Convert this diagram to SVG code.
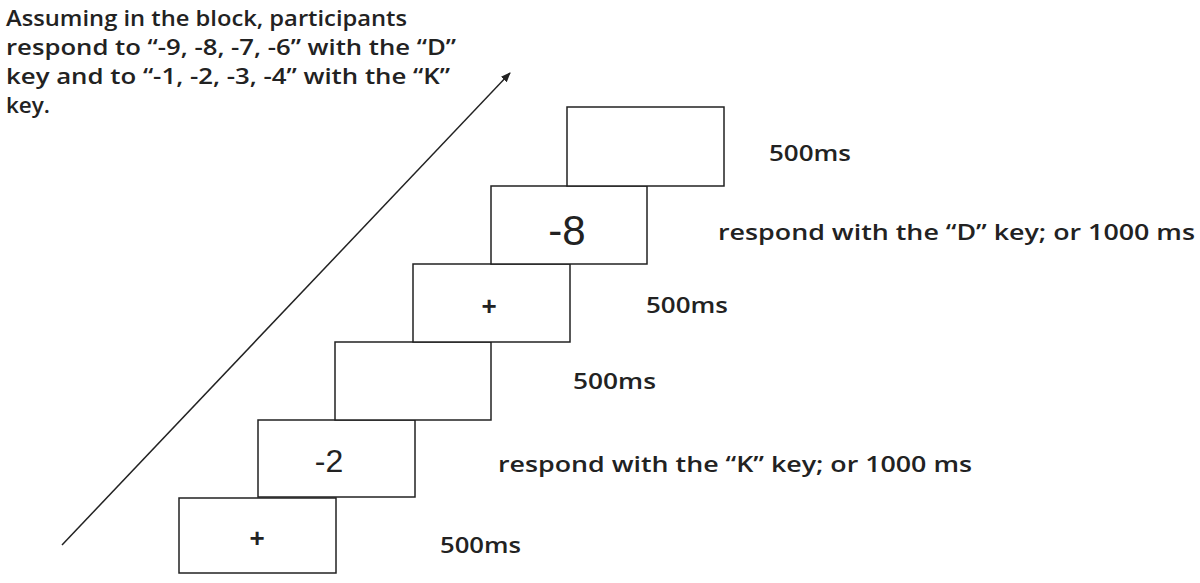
<svg xmlns="http://www.w3.org/2000/svg" width="1200" height="583" viewBox="0 0 1200 583">
<style>
.b{fill:#fff;stroke:#222;stroke-width:1.5}
.t{font-family:"Open Sans","Liberation Sans",Arial,sans-serif;font-size:22px;font-weight:600;fill:#222}
.s{font-family:"Liberation Sans",Arial,sans-serif;fill:#222}
</style>
<defs><marker id="a" markerWidth="10" markerHeight="10" refX="9" refY="5" orient="auto" markerUnits="userSpaceOnUse"><path d="M0,1 L10,5 L0,9 Z" fill="#222"/></marker></defs>
<rect width="1200" height="583" fill="#fff"/>
<g id="note"><text class="t" x="6" y="26" textLength="401" lengthAdjust="spacingAndGlyphs">Assuming in the block, participants</text><text class="t" x="6" y="55" textLength="450" lengthAdjust="spacingAndGlyphs">respond to “-9, -8, -7, -6” with the “D”</text><text class="t" x="6" y="84" textLength="444" lengthAdjust="spacingAndGlyphs">key and to “-1, -2, -3, -4” with the “K”</text><text class="t" x="6" y="113" textLength="44" lengthAdjust="spacingAndGlyphs">key.</text></g>
<g id="connectors"><line x1="62" y1="545" x2="510" y2="73" stroke="#222" stroke-width="1.5" marker-end="url(#a)"/></g>
<g id="n1"><rect class="b" x="179" y="498" width="157" height="75"/><text class="s" x="257" y="547" font-size="26" font-weight="bold" text-anchor="middle">+</text><text class="t" x="440" y="553" textLength="81" lengthAdjust="spacingAndGlyphs">500ms</text></g>
<g id="n2"><rect class="b" x="258" y="420" width="157" height="77"/><text class="s" x="329" y="472" font-size="32" text-anchor="middle">-2</text><text class="t" x="498" y="472" textLength="474" lengthAdjust="spacingAndGlyphs">respond with the “K” key; or 1000 ms</text></g>
<g id="n3"><rect class="b" x="335" y="342" width="156" height="78"/><text class="t" x="573" y="389" textLength="83" lengthAdjust="spacingAndGlyphs">500ms</text></g>
<g id="n4"><rect class="b" x="413" y="264" width="157" height="78"/><text class="s" x="489" y="315" font-size="26" font-weight="bold" text-anchor="middle">+</text><text class="t" x="646" y="313" textLength="82" lengthAdjust="spacingAndGlyphs">500ms</text></g>
<g id="n5"><rect class="b" x="491" y="186" width="156" height="78"/><text class="s" x="567" y="245" font-size="42" text-anchor="middle">-8</text><text class="t" x="718" y="240" textLength="477" lengthAdjust="spacingAndGlyphs">respond with the “D” key; or 1000 ms</text></g>
<g id="n6"><rect class="b" x="567" y="107" width="157" height="79"/><text class="t" x="769" y="161" textLength="82" lengthAdjust="spacingAndGlyphs">500ms</text></g>
</svg>
